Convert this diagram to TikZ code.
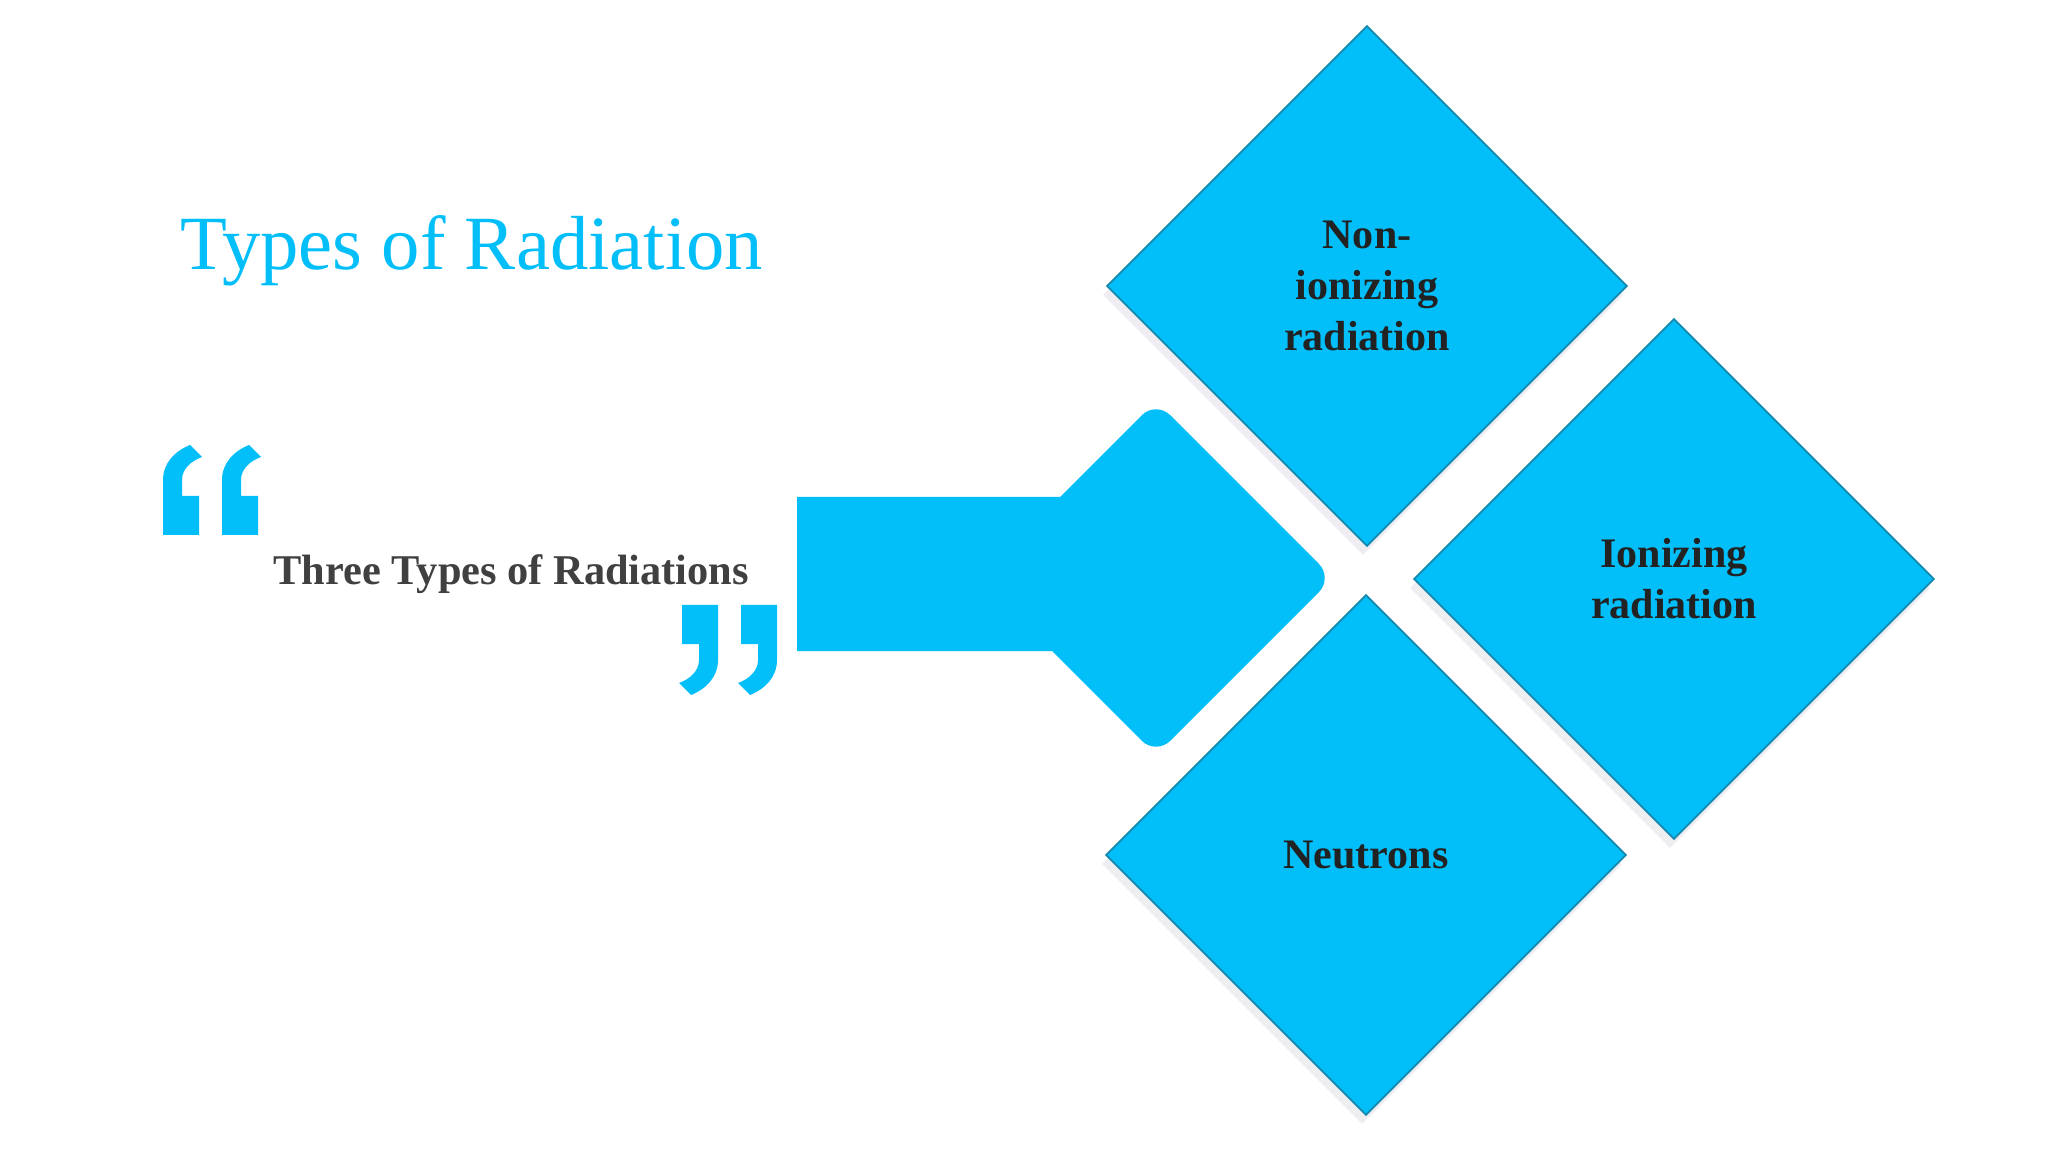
\documentclass[tikz,border=0pt]{standalone}
\usepackage{fontspec}
\setmainfont{Liberation Serif}
\usepackage{tikz}
\usetikzlibrary{shapes.geometric, shadows}
\definecolor{myblue}{HTML}{02BEF9}
\definecolor{myedge}{HTML}{1689AE}
\definecolor{mygray}{HTML}{EEEEF2}
\definecolor{mytext}{HTML}{222222}
\definecolor{mysub}{HTML}{404040}
\tikzset{
	diam/.style={diamond, aspect=1, minimum width=5.2cm, minimum height=5.2cm, inner sep=0pt, fill=myblue, draw=myedge, line width=0.5pt, align=center, text=mytext, font=\fontsize{11.95}{14.5}\selectfont\bfseries, drop shadow={shadow xshift=-0.04cm, shadow yshift=-0.09cm, fill=mygray, opacity=1}},
	qmark/.pic={\fill[myblue] (0,0) -- (36,0) -- (36,-39) -- (19,-39) -- (19,-55) .. controls (19,-66) and (28,-74) .. (39,-78) -- (27,-90) .. controls (12,-84) and (0,-72) .. (0,-55) -- cycle;}
}
\begin{document}
\begin{tikzpicture}[x=0.01cm, y=-0.01cm]
			\useasboundingbox (0,0) rectangle (2048,1152);
			\fill[white] (0,0) rectangle (2048,1152);
			\node[anchor=base west, inner sep=0pt, text=myblue, font=\fontsize{21.8}{25}\selectfont] (title) at (180,270) {Types of Radiation};
			\pic at (163,535) {qmark};
			\pic at (222,535) {qmark};
			\node[anchor=base west, inner sep=0pt, text=mysub, font=\fontsize{12.05}{14}\selectfont\bfseries] (quote) at (273,584) {Three Types of Radiations};
			\pic[rotate=180] at (718,605) {qmark};
			\pic[rotate=180] at (777,605) {qmark};
			\fill[myblue] (797,497) -- (1060,497) [rounded corners=0.2cm] -- (1156,401) -- (1333,578) -- (1156,755) [sharp corners] -- (1052,651) -- (797,651) -- cycle;
			\node[diam] (nonion) at (1367,286) {Non-\\ionizing\\radiation};
			\node[diam] (ion) at (1674,579) {Ionizing\\radiation};
			\node[diam] (neutr) at (1366,855) {Neutrons};
		\end{tikzpicture}
\end{document}
